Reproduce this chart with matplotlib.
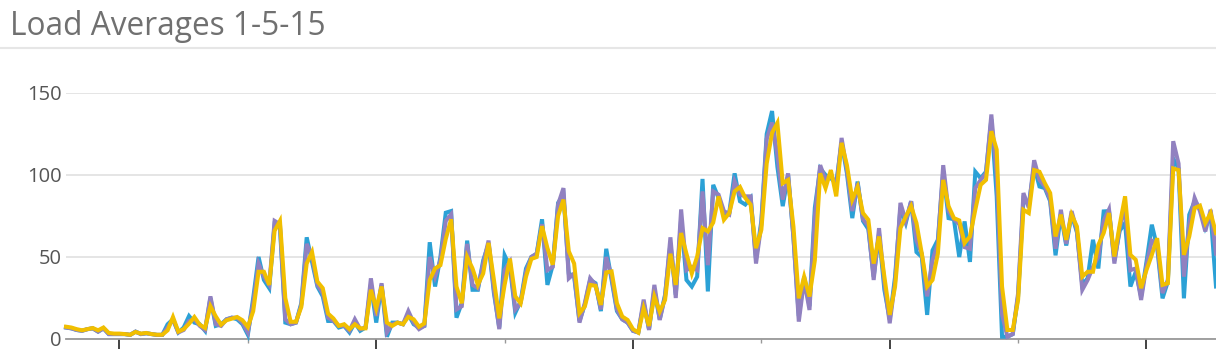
#!/usr/bin/env python3
"""
Load averages (1, 5 and 15 minute) over time
"""

import numpy as np
from matplotlib import pyplot as plt
from matplotlib.lines import Line2D

title = "Load Averages 1-5-15"
yticks = [0, 50, 100, 150]
major_ticks = [10, 58, 106, 154, 202]
minor_ticks = [34, 82, 130, 178]

load_1 = [
    7, 6.5, 5.5, 5, 6, 6.5, 4.5, 6.5, 3, 3, 3, 3, 2.5, 4.5, 3, 3.5, 3, 2.5, 2.5, 9,
    12, 4, 7, 14, 10, 9, 5, 25, 8, 9, 12, 13, 12, 9, 2.6, 25,
    50, 36, 31, 70, 68, 10, 9, 10, 22, 62, 47, 32, 26, 11, 11, 7, 8, 4, 10, 5, 7, 33,
    10, 33, 1.4, 10, 10, 9, 15, 9, 7, 8, 59, 32, 50, 77,
    78, 13, 22, 60, 30, 30, 48, 58, 28, 7, 51, 44, 16, 23, 43, 50, 52, 73, 33, 45, 83,
    88, 40, 38, 11, 21, 36, 34, 17, 55, 36, 17, 12, 10, 5, 4,
    22, 6, 30, 12, 27, 58, 27, 73, 36, 32, 38, 97.6, 29, 94, 86, 76.8, 77, 101, 84, 82,
    86, 49, 72, 125, 139, 105, 81, 100, 62, 14, 38, 20, 80,
    104, 100, 98, 95, 120, 101, 73.7, 96, 72, 67, 38, 64, 30, 12, 38, 80, 70.7, 84, 53,
    50, 14.7, 54, 60.5, 102, 73.7, 73, 50, 71.7, 47, 102, 98, 102, 134, 87, 1.4, 1.4, 3,
    26, 85, 82, 105, 93, 92, 84, 51, 76, 57, 76, 65, 33, 37, 60.5, 43, 77.8, 78, 48, 66,
    70.7, 32, 41, 26, 47, 69.7, 56, 24.8, 35, 110, 104, 24.8, 75.8, 84, 80, 68, 76, 32,
]

load_5 = [
    7, 6.5, 5.5, 5, 6, 6.5, 4.5, 6.5, 3, 3, 3, 3, 2.5, 4.5, 3, 3.5, 3, 2.5, 2.5, 7,
    12, 4, 5.5, 11, 12, 8, 5.5, 26, 9, 8, 12, 13, 13, 10, 4, 22,
    46, 38, 33, 72, 70, 12, 9, 10, 21, 58, 50, 33, 28, 13, 11, 8, 8, 5, 12, 6, 7, 37,
    14, 34, 4, 9, 10, 9, 17, 10, 6, 8, 50, 38, 48, 72,
    76, 18, 20, 58, 33, 31, 46, 60, 30, 6, 42, 47, 18, 22, 41, 50, 52, 70, 42, 44, 82,
    92, 37, 40, 10, 22, 37, 33, 18, 50, 38, 18, 12, 10, 5, 4,
    24, 5.5, 33, 11.6, 26, 62, 25, 79, 42, 44, 42, 90, 45, 90, 88, 78, 76, 96, 88, 87,
    87, 46, 70, 122, 132, 112, 85, 101, 62, 10.6, 36, 17.7, 75,
    106, 97, 101, 92, 122.6, 103, 78, 95, 73, 69, 36, 67.6, 34, 9.6, 35, 83, 72, 84, 60,
    52, 26, 48, 58, 106, 78, 73, 70, 56, 55, 92, 97, 101, 136.9, 100, 15, 1.4, 3,
    28, 89, 80, 109, 97, 93, 85, 55, 78.8, 58, 78, 66, 30, 36, 44, 50, 72, 79, 46, 68,
    80, 42, 43, 23.8, 45, 60, 58, 28, 36, 120.6, 107, 38, 70, 86, 78, 65.6, 78.8, 52,
]

load_15 = [
    7.5, 7, 6, 5.3, 6, 6.7, 5.3, 7, 3.7, 3.3, 3.3, 3, 2.6, 4.3, 3.3, 3.7, 3, 2.6, 2.6,
    5.3, 13.4, 4.5, 6, 9.3, 13.4, 8.7, 6.7, 20, 13.8, 8.7, 11.4, 12.4, 13.4, 11.4, 7.3, 17,
    41, 41, 33, 66, 72, 25, 10.5, 10.5, 19.6, 46, 53, 35, 31, 15.5, 12.5, 8, 9, 6, 9,
    6.5, 6.5, 30, 18.6, 32, 10, 8, 10, 9, 13.5, 12, 7.5, 9.5, 36, 43, 45, 61,
    73, 32, 21.8, 50, 43, 33, 40, 58.6, 36, 12.6, 33, 49, 26, 21.8, 38, 48.8, 50, 68.8,
    55.5, 45.3, 75, 85, 53.5, 46, 15.7, 19.8, 33, 32.4, 20.8, 40.6, 41.2, 21.8, 13.7, 11.6, 6, 3.9,
    18.7, 8, 25.9, 16.7, 23.8, 52, 33, 64.6, 52, 40, 50.3, 67.6, 65.6, 71, 87, 72.7, 76.8,
    90, 92.7, 86, 81.9, 55.4, 66.6, 107, 125.7, 131.8, 95, 97, 68.6, 24.8, 38, 25.9, 48,
    101, 92, 103, 87, 119.6, 106, 85, 92.7, 76.8, 72.7, 46, 62.5, 38, 14.7, 32, 67.6, 74.7,
    81, 70.7, 52, 32, 36, 52, 97, 81, 73.7, 72.3, 58.5, 62.5, 78.8, 94, 97, 126.7, 115.5,
    32, 5.5, 5.5,
    23.8, 78.8, 76.8, 103, 102, 95, 89, 62.5, 75.8, 60.5, 75.8, 68.6, 38, 41, 41, 57.4,
    64.6, 76.8, 50.3, 69.7, 87, 51.3, 48.3, 31, 42, 51.3, 61.5, 33, 34, 104, 103, 51.3,
    62.5, 79.8, 81.3, 70.7, 76.8, 64.6,
]

colors = ["#2ba1d6", "#9181c0", "#f1bf00"]

fig = plt.figure(figsize=(12.16, 3.5), dpi=100)
ax = fig.add_axes([66 / 1216, 11 / 350, 1 - 66 / 1216, 246 / 350])

t = np.arange(len(load_15))
for series, color in zip([load_1, load_5, load_15], colors):
    ax.plot(t, series, color=color, linewidth=2.9, solid_joinstyle="miter",
        clip_on=False, zorder=3)

ax.set_xlim(0, len(load_15) - 1)
ax.set_ylim(0, 150)
ax.set_yticks(yticks)
ax.set_yticklabels([str(v) for v in yticks], family="Open Sans", size=14.5, color="#555555")
ax.tick_params(axis="y", length=0, pad=3)
ax.yaxis.grid(True, color="#dedede", linewidth=1.1)
ax.set_axisbelow(True)

ax.set_xticks(major_ticks)
ax.set_xticks(minor_ticks, minor=True)
ax.set_xticklabels([])
ax.tick_params(axis="x", which="major", length=7, width=1.2, color="#222222")
ax.tick_params(axis="x", which="minor", length=3, width=1.0, color="#999999")

for side in ["top", "right", "left"]:
    ax.spines[side].set_visible(False)
ax.spines["bottom"].set_color("#999999")
ax.spines["bottom"].set_linewidth(1.3)

fig.text(10 / 1216, 1 - 35 / 350, title, family="Open Sans", size=22.8,
    color="#707070", va="baseline", ha="left")
fig.add_artist(Line2D([0, 1], [1 - 48 / 350, 1 - 48 / 350], color="#e6e6e6",
    linewidth=1.5, transform=fig.transFigure))

plt.savefig("out.png", dpi=100)
plt.close()
